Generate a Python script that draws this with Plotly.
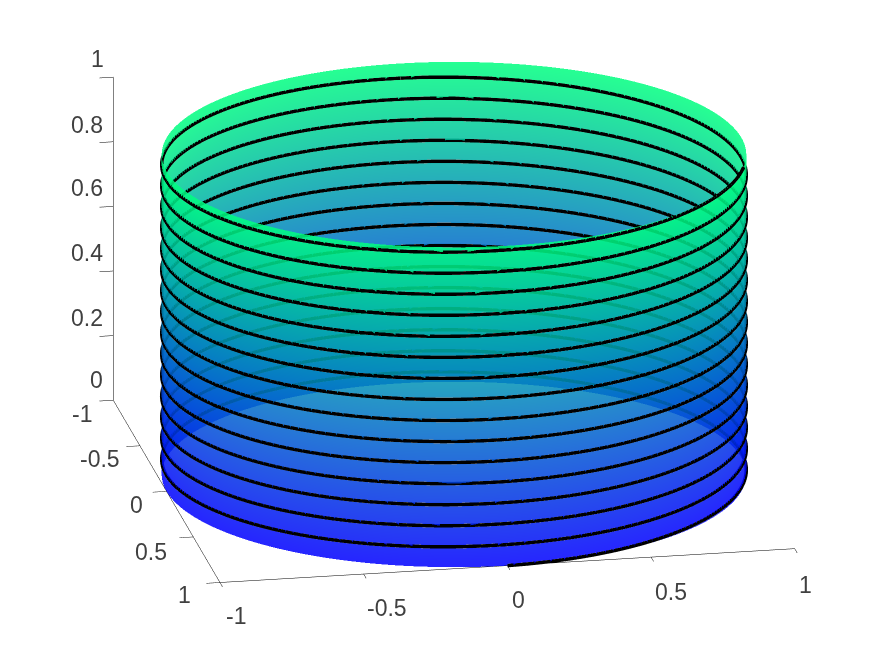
import numpy as np
import plotly.graph_objects as go

# Values
x_ticks = [-1, -0.5, 0, 0.5, 1]
y_ticks = [-1, -0.5, 0, 0.5, 1]
z_ticks = [0, 0.2, 0.4, 0.6, 0.8, 1]
x_labels = ["-1", "-0.5", "0", "0.5", "1"]
y_labels = ["-1", "-0.5", "0", "0.5", "1"]
z_labels = ["0", "0.2", "0.4", "0.6", "0.8", "1"]
cylinder_heights = [0, 0.99]
helix_parameter_end = 95.5
winter = [[0, "rgb(0,0,255)"], [1, "rgb(0,255,128)"]]
view_angle_deg = 100.5  # data angle of the side nearest the viewer

# Label offsets from their ticks, in pixels (style, not data)
x_label_shift = [(16, -33), (24, -34), (11, -34), (20, -35), (11, -36)]
y_label_shift = [(-31, -14), (-40, -13), (-30, -14), (-42, -15), (-35, -12)]
z_label_shift = [(-16, 20), (-26, 18), (-26, 18), (-26, 18), (-26, 17), (-15, 18)]

# Parametric geometry of the cylinder and helix
zz = np.array(cylinder_heights, dtype=float)
t = np.linspace(0, helix_parameter_end, 4000)


def wall(start, stop):
    th = np.radians(np.linspace(start, stop, 181))
    X = np.outer(np.ones_like(zz), np.cos(th))
    Y = np.outer(np.ones_like(zz), np.sin(th))
    Z = np.outer(zz, np.ones_like(th))
    return go.Surface(
        x=X, y=Y, z=Z, surfacecolor=Z, colorscale=winter, cmin=0, cmax=zz[-1],
        opacity=0.85, showscale=False,
        lighting=dict(ambient=1, diffuse=0, specular=0, roughness=1, fresnel=0),
        hoverinfo="skip",
    )


fig = go.Figure()
fig.add_trace(go.Scatter3d(
    x=np.sin(t), y=np.cos(t), z=zz[-1] * t / helix_parameter_end, mode="lines",
    line=dict(color="black", width=7), hoverinfo="skip", showlegend=False,
))
fig.add_trace(wall(view_angle_deg + 90, view_angle_deg + 270))  # far half
fig.add_trace(wall(view_angle_deg - 90, view_angle_deg + 90))   # near half

font = dict(family="Liberation Sans, Arial, sans-serif", size=23, color="#404040")


def axis(vals, rng, direction="outside"):
    return dict(
        range=rng, tickmode="array", tickvals=vals, showticklabels=False,
        showgrid=False, zeroline=False, showbackground=False, showspikes=False,
        showline=True, linecolor="black", linewidth=1,
        ticks=direction, ticklen=14, tickwidth=1, tickcolor="black",
        title=dict(text=""),
    )


def label(text, x, y, z, shift):
    return dict(
        x=x, y=y, z=z, text=text, showarrow=False, font=font,
        xanchor="center", yanchor="middle", xshift=shift[0], yshift=shift[1],
    )


annotations = (
    [label(s, v, 1, 0, d) for s, v, d in zip(x_labels, x_ticks, x_label_shift)]
    + [label(s, -1, v, 0, d) for s, v, d in zip(y_labels, y_ticks, y_label_shift)]
    + [label(s, -1, -1, v, d) for s, v, d in zip(z_labels, z_ticks, z_label_shift)]
)

fig.update_layout(
    width=875, height=657, margin=dict(l=0, r=0, t=0, b=0),
    paper_bgcolor="white", showlegend=False,
    scene=dict(
        domain=dict(x=[0.027, 0.992], y=[0.038, 1]),
        xaxis=axis(x_ticks, [-1, 1], "inside"),
        yaxis=axis(y_ticks, [1, -1]),
        zaxis=axis(z_ticks, [0, 1]),
        aspectmode="manual",
        aspectratio=dict(x=1.85, y=1.85, z=1.078),
        camera=dict(
            projection=dict(type="orthographic"),
            eye=dict(x=-0.346, y=-1.864, z=0.597),
            up=dict(x=0, y=0, z=1),
            center=dict(x=0, y=0, z=-0.037),
        ),
        annotations=annotations,
    ),
)
fig.write_html("out.html")
